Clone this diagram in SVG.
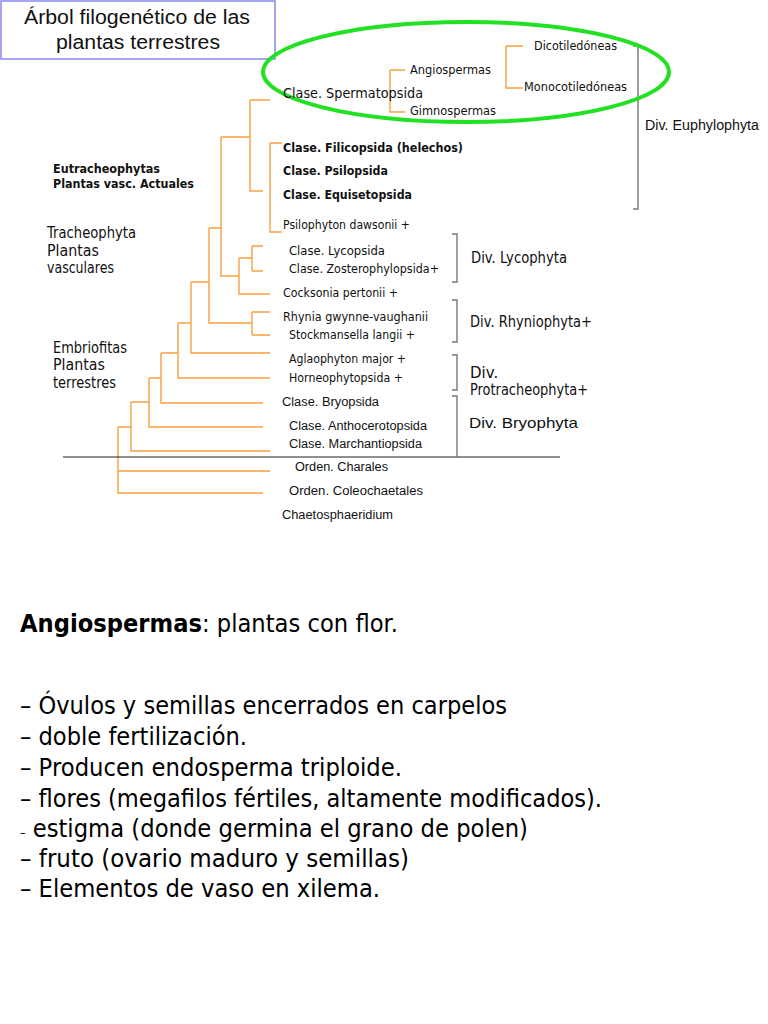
<svg xmlns="http://www.w3.org/2000/svg" width="768" height="1024" viewBox="0 0 768 1024">
<style>
.o{fill:none;stroke:#f7a040;stroke-width:1.4}
.g{fill:none;stroke:#777;stroke-width:1.4}
.t{font-family:"DejaVu Sans","Liberation Sans",sans-serif;fill:#111}
.a{font-family:"Liberation Sans",Arial,sans-serif;fill:#111}
.s{font-size:12px}
.m{font-size:14px}
.d{font-size:15px}
.b{font-weight:bold}
.big{font-family:"DejaVu Sans","Liberation Sans",sans-serif;font-size:25px;fill:#000}
</style>
<rect width="768" height="1024" fill="#fff"/>
<g id="title">
<rect x="1" y="1" width="274" height="58" fill="#fff" stroke="#8888ee" stroke-width="1.5"/>
<text class="a" x="137" y="24" font-size="20" text-anchor="middle" textLength="226" lengthAdjust="spacingAndGlyphs">Árbol filogenético de las</text>
<text class="a" x="138" y="49" font-size="20" text-anchor="middle" textLength="164" lengthAdjust="spacingAndGlyphs">plantas terrestres</text>
</g>
<g id="connectors">
<path class="o" d="M390 70H405M390 70V112H405"/>
<path class="o" d="M506 46H523M506 46V88H523"/>
<path class="o" d="M250 100H270M250 100V191H263M221 137H250"/>
<path class="o" d="M270 143H282M270 143V232H282"/>
<path class="o" d="M221 137V276H239"/>
<path class="o" d="M239 258V294H270M239 258H252"/>
<path class="o" d="M252 246V271M252 246H263M252 271H263"/>
<path class="o" d="M209 228H221M209 228V323H252"/>
<path class="o" d="M252 312V335M252 312H270M252 335H270"/>
<path class="o" d="M191 282H209M191 282V353H270"/>
<path class="o" d="M178 323H191M178 323V378H270"/>
<path class="o" d="M161 353H178M161 353V403H263"/>
<path class="o" d="M149 378H161M149 378V427H263"/>
<path class="o" d="M131 402H149M131 402V451H270"/>
<path class="o" d="M118 427H131M118 427V493H263M118 471H270"/>
<line x1="63" y1="457" x2="560" y2="457" stroke="#222" stroke-width="1.2"/>
<path class="g" d="M633 46H638V209H633"/>
<path class="g" d="M452 234H457V282H452"/>
<path class="g" d="M452 300H457V342H452"/>
<path class="g" d="M452 355H457V390H452"/>
<path class="g" d="M452 396H457V457"/>
</g>
<g id="highlight">
<ellipse cx="466" cy="72" rx="203" ry="50" fill="none" stroke="#22e022" stroke-width="4"/>
</g>
<g id="spermatopsida"><text class="t m" x="283" y="98" textLength="140" lengthAdjust="spacingAndGlyphs">Clase. Spermatopsida</text></g>
<g id="angiospermas"><text class="t s" x="410" y="74" textLength="81" lengthAdjust="spacingAndGlyphs">Angiospermas</text></g>
<g id="gimnospermas"><text class="t s" x="410" y="115" textLength="86" lengthAdjust="spacingAndGlyphs">Gimnospermas</text></g>
<g id="dicot"><text class="t s" x="534" y="50" textLength="83" lengthAdjust="spacingAndGlyphs">Dicotiledóneas</text></g>
<g id="monocot"><text class="t s" x="524" y="91" textLength="103" lengthAdjust="spacingAndGlyphs">Monocotiledóneas</text></g>
<g id="euphylophyta"><text class="a" font-size="14" x="645" y="130" textLength="114" lengthAdjust="spacingAndGlyphs">Div. Euphylophyta</text></g>
<g id="filicopsida"><text class="t s b" x="283" y="152" textLength="180" lengthAdjust="spacingAndGlyphs">Clase. Filicopsida (helechos)</text></g>
<g id="psilopsida"><text class="t s b" x="283" y="175" textLength="105" lengthAdjust="spacingAndGlyphs">Clase. Psilopsida</text></g>
<g id="equisetopsida"><text class="t s b" x="283" y="199" textLength="129" lengthAdjust="spacingAndGlyphs">Clase. Equisetopsida</text></g>
<g id="psilophyton"><text class="t s" x="283" y="229" textLength="127" lengthAdjust="spacingAndGlyphs">Psilophyton dawsonii +</text></g>
<g id="lycopsida"><text class="t s" x="289" y="255" textLength="96" lengthAdjust="spacingAndGlyphs">Clase. Lycopsida</text></g>
<g id="zosterophylopsida"><text class="t s" x="289" y="273" textLength="150" lengthAdjust="spacingAndGlyphs">Clase. Zosterophylopsida+</text></g>
<g id="lycophyta"><text class="t d" x="471" y="263" textLength="96" lengthAdjust="spacingAndGlyphs">Div. Lycophyta</text></g>
<g id="cocksonia"><text class="t s" x="283" y="297" textLength="115" lengthAdjust="spacingAndGlyphs">Cocksonia pertonii +</text></g>
<g id="rhynia"><text class="t s" x="283" y="321" textLength="145" lengthAdjust="spacingAndGlyphs">Rhynia gwynne-vaughanii</text></g>
<g id="stockmansella"><text class="t s" x="289" y="339" textLength="126" lengthAdjust="spacingAndGlyphs">Stockmansella langii +</text></g>
<g id="rhyniophyta"><text class="t d" x="470" y="327" textLength="122" lengthAdjust="spacingAndGlyphs">Div. Rhyniophyta+</text></g>
<g id="aglaophyton"><text class="t s" x="289" y="363" textLength="117" lengthAdjust="spacingAndGlyphs">Aglaophyton major +</text></g>
<g id="horneophytopsida"><text class="t s" x="289" y="382" textLength="114" lengthAdjust="spacingAndGlyphs">Horneophytopsida +</text></g>
<g id="protracheophyta"><text class="t d" x="470" y="378">Div.</text><text class="t d" x="470" y="395" textLength="118" lengthAdjust="spacingAndGlyphs">Protracheophyta+</text></g>
<g id="bryopsida"><text class="a s" x="282" y="406" textLength="97" lengthAdjust="spacingAndGlyphs">Clase. Bryopsida</text></g>
<g id="anthocerotopsida"><text class="a s" x="289" y="430" textLength="138" lengthAdjust="spacingAndGlyphs">Clase. Anthocerotopsida</text></g>
<g id="marchantiopsida"><text class="a s" x="289" y="448" textLength="133" lengthAdjust="spacingAndGlyphs">Clase. Marchantiopsida</text></g>
<g id="bryophyta"><text class="a d" x="469" y="428" textLength="109" lengthAdjust="spacingAndGlyphs">Div. Bryophyta</text></g>
<g id="charales"><text class="a s" x="295" y="471" textLength="93" lengthAdjust="spacingAndGlyphs">Orden. Charales</text></g>
<g id="coleochaetales"><text class="a s" x="289" y="495" textLength="134" lengthAdjust="spacingAndGlyphs">Orden. Coleochaetales</text></g>
<g id="chaetosphaeridium"><text class="a s" x="282" y="519" textLength="111" lengthAdjust="spacingAndGlyphs">Chaetosphaeridium</text></g>
<g id="eutracheophytas"><text class="t s b" x="53" y="173" textLength="107" lengthAdjust="spacingAndGlyphs">Eutracheophytas</text><text class="t s b" x="53" y="188" textLength="141" lengthAdjust="spacingAndGlyphs">Plantas vasc. Actuales</text></g>
<g id="tracheophyta"><text class="t d" x="47" y="238" textLength="89" lengthAdjust="spacingAndGlyphs">Tracheophyta</text><text class="t d" x="47" y="256" textLength="52" lengthAdjust="spacingAndGlyphs">Plantas</text><text class="t d" x="47" y="273" textLength="67" lengthAdjust="spacingAndGlyphs">vasculares</text></g>
<g id="embriofitas"><text class="t d" x="53" y="353" textLength="74" lengthAdjust="spacingAndGlyphs">Embriofitas</text><text class="t d" x="53" y="370" textLength="52" lengthAdjust="spacingAndGlyphs">Plantas</text><text class="t d" x="53" y="388" textLength="63" lengthAdjust="spacingAndGlyphs">terrestres</text></g>
<g id="text">
<text class="big" x="20" y="632" textLength="378" lengthAdjust="spacingAndGlyphs"><tspan font-weight="bold">Angiospermas</tspan>: plantas con flor.</text>
<text class="big" x="20" y="714" textLength="487" lengthAdjust="spacingAndGlyphs">– Óvulos y semillas encerrados en carpelos</text>
<text class="big" x="20" y="745" textLength="227" lengthAdjust="spacingAndGlyphs">– doble fertilización.</text>
<text class="big" x="20" y="776" textLength="382" lengthAdjust="spacingAndGlyphs">– Producen endosperma triploide.</text>
<text class="big" x="20" y="807" textLength="582" lengthAdjust="spacingAndGlyphs">– flores (megafilos fértiles, altamente modificados).</text>
<text class="big" x="20" y="837" textLength="508" lengthAdjust="spacingAndGlyphs"><tspan font-size="12">–</tspan> estigma (donde germina el grano de polen)</text>
<text class="big" x="20" y="867" textLength="389" lengthAdjust="spacingAndGlyphs">– fruto (ovario maduro y semillas)</text>
<text class="big" x="20" y="897" textLength="360" lengthAdjust="spacingAndGlyphs">– Elementos de vaso en xilema.</text>
</g>
</svg>
